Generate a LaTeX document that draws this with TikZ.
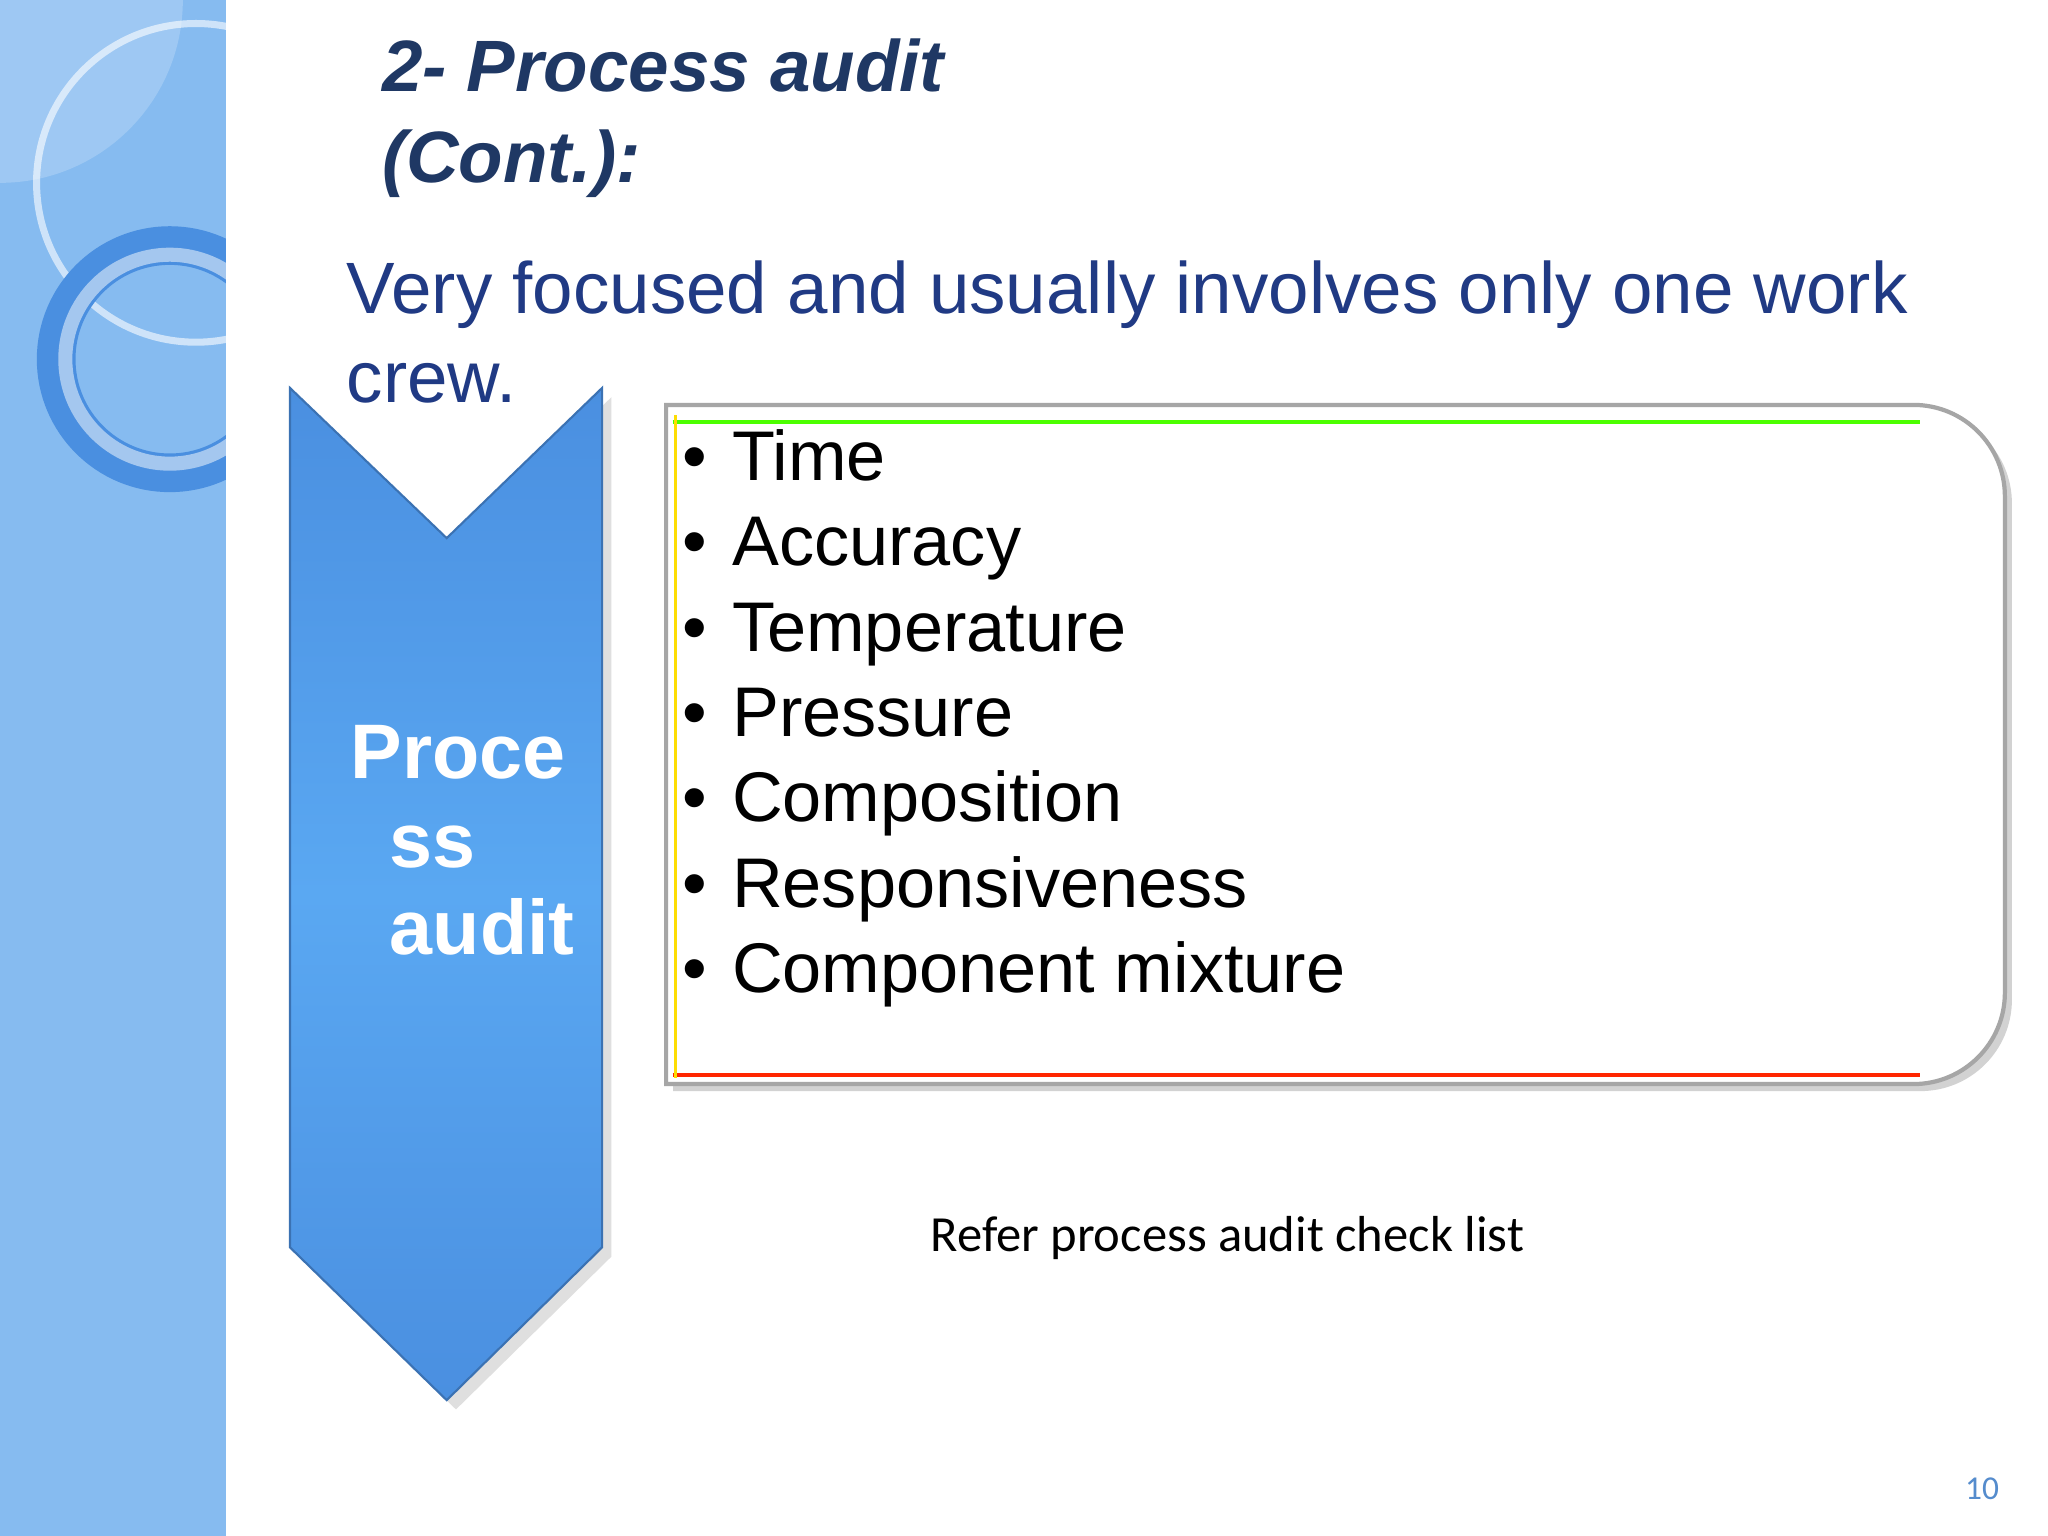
\documentclass[tikz,border=0pt]{standalone}
\usepackage{fontspec}
\setmainfont{Liberation Sans}
\newfontfamily\carl{Carlito}
\usetikzlibrary{shadows}
\definecolor{strip}{HTML}{86BBF0}
\definecolor{navy}{HTML}{1F3864}
\definecolor{subt}{HTML}{203A84}
\definecolor{chev}{HTML}{5AA8F2}
\definecolor{chevd}{HTML}{4A8FE0}
\tikzset{
 item/.style={anchor=base west,font=\fontsize{20}{24}\selectfont,inner sep=0pt},
 subtx/.style={anchor=base west,font=\fontsize{20.7}{24}\selectfont,inner sep=0pt,text=subt},
 ttl/.style={anchor=base west,font=\fontsize{20.7}{25}\selectfont\bfseries\itshape,text=navy,inner sep=0pt},
 chevtxt/.style={anchor=base west,font=\fontsize{22}{26}\selectfont\bfseries,text=white,inner sep=0pt}
}
\begin{document}
\begin{tikzpicture}[x=0.01306cm,y=-0.01306cm]
\useasboundingbox (0,0) rectangle (1568,1176);
\fill[white] (0,0) rectangle (1568,1176);
% left strip
\fill[strip] (0,0) rectangle (173,1176);
\begin{scope}
\clip (0,0) rectangle (173,1176);
\fill[white,opacity=0.2] (0,0) -- (140,0) arc[start angle=0,end angle=90,radius=140] -- (0,140) -- cycle;
\draw[white,opacity=0.6,line width=2pt] (150,140) circle[radius=122];
\draw[line width=11pt,draw=chevd] (130,275) circle[radius=87];
\draw[line width=4pt,draw=white,opacity=0.5] (130,275) circle[radius=80];
\end{scope}
% title
\node[ttl] (t1) at (292,70) {2- Process audit};
\node[ttl] (t2) at (292,140) {(Cont.):};
\node[subtx] (s1) at (265,240) {Very focused and usually involves only one work};
\node[subtx] (s2) at (265,308) {crew.};
% chevron
\fill[top color=chevd,bottom color=chevd,middle color=chev,draw=chevd!80!black,line width=0.6pt,drop shadow={opacity=0.25}]
 (222,297) -- (342,412) -- (461,297) -- (461,955) -- (342,1072) -- (222,955) -- cycle;
\node[chevtxt] (c1) at (268,596) {Proce};
\node[chevtxt] (c2) at (298,664) {ss};
\node[chevtxt] (c3) at (298,731) {audit};
% box
\draw[fill=white,draw=gray!70,line width=1.2pt,drop shadow={opacity=0.35,shadow xshift=2pt,shadow yshift=-2pt}]
 (510,310) -- (1465,310) arc[start angle=-90,end angle=0,radius=70] -- (1535,760) arc[start angle=0,end angle=90,radius=70] -- (510,830) -- cycle;
\draw[green!70!yellow,line width=1pt] (515,323) -- (1470,323);
\draw[red!70!orange,line width=1pt] (515,823) -- (1470,823);
\draw[yellow!80!orange,line width=1pt] (517,318) -- (517,825);
\foreach \t [count=\i from 0] in {Time,Accuracy,Temperature,Pressure,Composition,Responsiveness,Component mixture}{
 \node[item] (b\i) at (522,{368+65.3*\i}) {•};
 \node[item] (i\i) at (560,{368+65.3*\i}) {\t};
}
\node[anchor=base west,inner sep=0pt,font=\carl\fontsize{14.4}{16}\selectfont] (ref) at (712,958) {Refer process audit check list};
\node[anchor=base east,inner sep=0pt,text=chevd!80!gray,font=\carl\fontsize{9.5}{11}\selectfont] (pg) at (1531,1148) {10};
\end{tikzpicture}
\end{document}
